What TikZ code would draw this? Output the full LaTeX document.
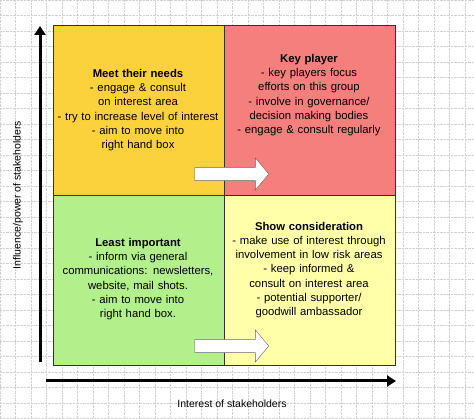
\documentclass[tikz,border=0pt]{standalone}
\usepackage{fontspec}
\setmainfont{Liberation Sans}
\usetikzlibrary{shapes.arrows,arrows.meta}
\definecolor{qtl}{HTML}{FCD23C}
\definecolor{qtr}{HTML}{F47F7C}
\definecolor{qbl}{HTML}{B2F08C}
\definecolor{qbr}{HTML}{FFFFAA}
\begin{document}
\hyphenpenalty=10000 \exhyphenpenalty=10000
\begin{tikzpicture}[x=1pt,y=-1pt,
  quad/.style={draw=black!80,line width=0.8pt,minimum width=171pt,minimum height=170pt,anchor=north west,inner sep=0},
  txt/.style={align=center,font=\fontsize{11.3}{14.2}\selectfont,text width=164pt},
  wide/.style={single arrow,draw=black!60,fill=white,minimum height=74pt,minimum width=32pt,single arrow head extend=6pt,single arrow head indent=0pt,single arrow tip angle=100,inner sep=4pt,anchor=center},
  axis/.style={line width=3pt,-{Triangle[length=9pt,width=11pt]}}]
\useasboundingbox (0,0) rectangle (474,419);
\fill[white] (0,0) rectangle (474,419);
\draw[black!18,densely dotted] (0,0) grid[step=15.5pt] (474,419);
\node[quad,fill=qtl] (tl) at (53,25) {};
\node[quad,fill=qtr] (tr) at (224,25) {};
\node[quad,fill=qbl] (bl) at (53,195) {};
\node[quad,fill=qbr] (br) at (224,195) {};
\node[txt] (ttl) at (138,110) {\textbf{Meet their needs}\\- engage \& consult on interest area\\- try to increase level of interest\\- aim to move into right hand box};
\node[txt] (ttr) at (309,95) {\textbf{Key player}\\- key players focus efforts on this group\\- involve in governance/ decision making bodies\\- engage \& consult regularly};
\node[txt] (tbl) at (138,279) {\textbf{Least important}\\- inform via general communications: newsletters, website, mail shots.\\- aim to move into right hand box.};
\node[txt] (tbr) at (309,270) {\textbf{Show consideration}\\- make use of interest through involvement in low risk areas\\- keep informed \& consult on interest area\\- potential supporter/ goodwill ambassador};
\node[wide] (a1) at (229,174) {};
\node[wide] (a2) at (229,346) {};
\coordinate (yb) at (40,362);
\coordinate (yt) at (40,26);
\coordinate (xl) at (46,381);
\coordinate (xr) at (396,381);
\draw[axis] (yb) -- (yt);
\draw[axis] (xl) -- (xr);
\node[font=\fontsize{10.5}{12}\selectfont,rotate=90] (yl) at (18,195) {Influence/power of stakeholders};
\node[font=\fontsize{10.5}{12}\selectfont] (xlab) at (232,404) {Interest of stakeholders};
\end{tikzpicture}
\end{document}
